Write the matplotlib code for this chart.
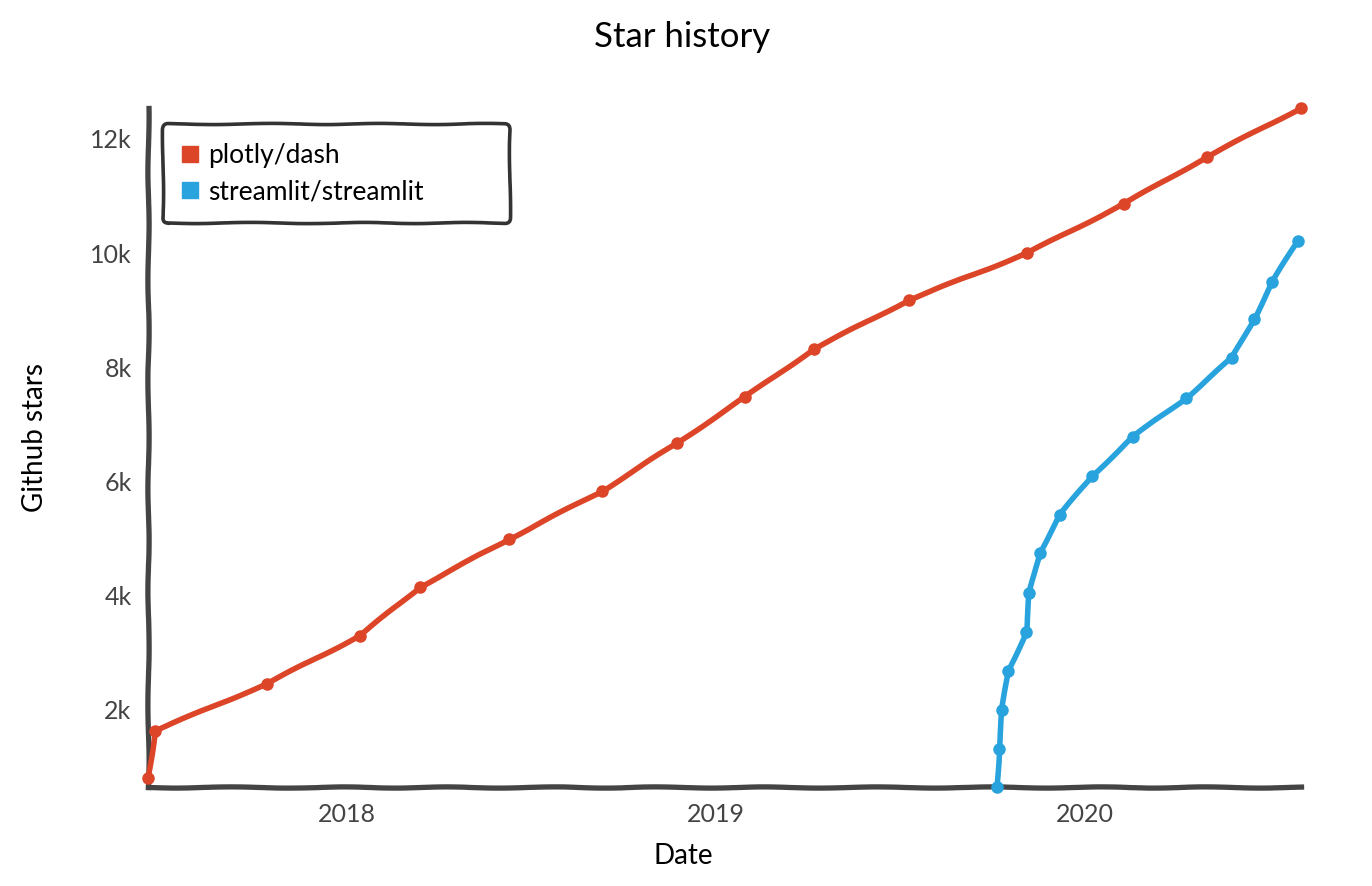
import pandas as pd
import numpy as np
import matplotlib
matplotlib.use("Agg")
import matplotlib.pyplot as plt
import matplotlib.dates as mdates
from matplotlib.ticker import FuncFormatter

# 数据：star-history 采样点
dash_dates = ["2017-06-19", "2017-06-26", "2017-10-14", "2018-01-14", "2018-03-15",
              "2018-06-11", "2018-09-11", "2018-11-24", "2019-01-30", "2019-04-08",
              "2019-07-11", "2019-11-05", "2020-02-08", "2020-04-30", "2020-08-01"]
dash_stars = [806, 1629, 2452, 3292, 4151, 4991, 5832, 6673, 7478, 8319,
              9177, 10000, 10858, 11681, 12539]

streamlit_dates = ["2019-10-06", "2019-10-08", "2019-10-11", "2019-10-17", "2019-11-04",
                   "2019-11-07", "2019-11-17", "2019-12-07", "2020-01-08", "2020-02-17",
                   "2020-04-10", "2020-05-25", "2020-06-16", "2020-07-04", "2020-07-29"]
streamlit_stars = [648, 1313, 1996, 2680, 3363, 4046, 4746, 5412, 6095, 6778,
                   7461, 8161, 8844, 9492, 10210]

repo_names = ["plotly/dash", "streamlit/streamlit"]
colors = ["#dd4528", "#28a3dd"]
y_ticks = [2000, 4000, 6000, 8000, 10000, 12000]

# 手绘风格
plt.xkcd(scale=0.6, length=120, randomness=2)
plt.rcParams['path.effects'] = []
plt.rcParams['font.family'] = ['Lato', 'DejaVu Sans']

fig = plt.figure(figsize=(13.72, 8.86), dpi=100)
ax = fig.add_axes([0.108, 0.112, 0.84, 0.766])

x1 = pd.to_datetime(dash_dates)
x2 = pd.to_datetime(streamlit_dates)
ax.plot(x1, dash_stars, color=colors[0], lw=4, marker="o", ms=8,
        label=repo_names[0], clip_on=False, zorder=3)
ax.plot(x2, streamlit_stars, color=colors[1], lw=4, marker="o", ms=8,
        label=repo_names[1], clip_on=False, zorder=3)

ax.set_xlim(x1.min(), max(x1.max(), x2.max()))
ax.set_ylim(min(min(dash_stars), min(streamlit_stars)), max(max(dash_stars), max(streamlit_stars)))

ax.set_yticks(y_ticks)
ax.yaxis.set_major_formatter(FuncFormatter(lambda v, p: "%dk" % (v / 1000)))
ax.xaxis.set_major_locator(mdates.YearLocator())
ax.xaxis.set_major_formatter(mdates.DateFormatter("%Y"))
ax.tick_params(length=0, labelsize=18, labelcolor="#444444", pad=12)

for s in ["top", "right"]:
    ax.spines[s].set_visible(False)
for s in ["left", "bottom"]:
    ax.spines[s].set_linewidth(3.8)
    ax.spines[s].set_color("#444444")

# 标题和轴标签都按整张图居中
fig.text(0.497, 0.958, "Star history", fontsize=25, ha="center", va="center")
ax.set_xlabel("Date", fontsize=20)
ax.xaxis.set_label_coords(0.464, -0.083)
ax.set_ylabel("Github stars", fontsize=20)
ax.yaxis.set_label_coords(-0.087, 0.515)

leg = ax.legend(loc="upper left", bbox_to_anchor=(0.013, 0.832, 0.301, 0.144),
                mode="expand", borderaxespad=0, fontsize=19, frameon=True, fancybox=True,
                handlelength=0.6, handletextpad=0.4, borderpad=0.7, labelspacing=0.45)
leg.get_frame().set_edgecolor("black")
leg.get_frame().set_linewidth(2.6)
leg.set_zorder(5)
for h in leg.legend_handles:
    h.set_linestyle("none")
    h.set_marker("s")
    h.set_markersize(11)

fig.savefig("out.png", dpi=100)
